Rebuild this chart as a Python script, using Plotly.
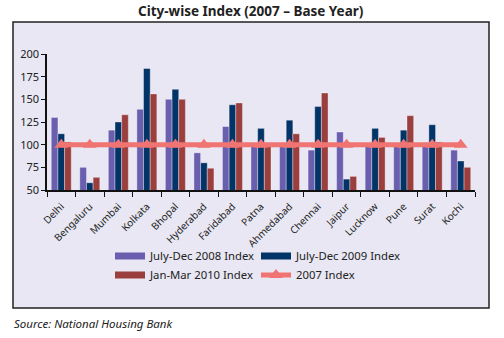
import plotly.graph_objects as go

cities = ["Delhi", "Bengaluru", "Mumbai", "Kolkata", "Bhopal", "Hyderabad", "Faridabad",
          "Patna", "Ahmedabad", "Chennai", "Jaipur", "Lucknow", "Pune", "Surat", "Kochi"]
idx_2008 = [130, 75, 116, 139, 150, 91, 120, 99, 99, 94, 114, 99, 99, 99, 94]
idx_2009 = [112, 58, 125, 184, 161, 80, 144, 118, 127, 142, 62, 118, 116, 122, 82]
idx_2010 = [103, 64, 133, 156, 150, 74, 146, 99, 112, 157, 65, 108, 132, 103, 75]
idx_2007 = [100] * len(cities)

names = ["July-Dec 2008 Index", "July-Dec 2009 Index", "Jan-Mar 2010 Index", "2007 Index"]
colors = ["#6A5EAE", "#033468", "#9A3E3E", "#F07472"]

W, H = 504, 338
L, R, T, B = 47, 29, 54, 148
pw, ph = W - L - R, H - T - B

def px(x):
    return (x - L) / pw

def py(y):
    return (H - B - y) / ph

font = "Noto Sans, Open Sans, sans-serif"
legend_ids = ["legend", "legend2", "legend3", "legend4"]
# legend text start (x) and row centre (y), in pixels
legend_pos = [(150, 256), (296, 256), (150, 275), (296, 275)]

fig = go.Figure()
edge = dict(color="rgba(255,255,255,0.35)", width=1)
for i, vals in enumerate([idx_2008, idx_2009, idx_2010]):
    fig.add_bar(x=cities, y=vals, name=names[i], marker=dict(color=colors[i], line=edge),
                showlegend=False)
    # legend swatch (wide rectangle like the reference)
    fig.add_scatter(x=[None], y=[None], mode="lines", name=names[i],
                    line=dict(color=colors[i], width=7), legend=legend_ids[i])
fig.add_scatter(x=cities, y=idx_2007, name=names[3], mode="lines+markers",
                line=dict(color=colors[3], width=5), legend=legend_ids[3],
                marker=dict(symbol="triangle-up", size=12, color=colors[3]))

legends = {}
for lid, (tx, ty) in zip(legend_ids, legend_pos):
    legends[lid] = dict(x=px(tx - 40), y=py(ty), xanchor="left", yanchor="middle",
                        bgcolor="rgba(0,0,0,0)", font=dict(size=11.3, family=font),
                        itemwidth=30, orientation="h")

fig.update_layout(
    width=W, height=H,
    margin=dict(l=L, r=R, t=T, b=B),
    paper_bgcolor="white",
    plot_bgcolor="rgba(0,0,0,0)",
    barmode="group", bargap=0.3, bargroupgap=0,
    font=dict(family=font, color="#222222", size=11),
    showlegend=True,
    **legends,
    shapes=[dict(type="rect", xref="paper", yref="paper", x0=px(13), x1=px(489),
                 y0=py(308), y1=py(22), line=dict(color="#222222", width=1.5),
                 fillcolor="#E8E7F3", layer="below")],
    annotations=[
        dict(text="<b>City-wise Index (2007 – Base Year)</b>", xref="paper", yref="paper",
             x=px(251), y=py(11), xanchor="center", yanchor="middle", showarrow=False,
             font=dict(size=13.5, family=font, color="#222222")),
        dict(text="<i>Source: National Housing Bank</i>", xref="paper", yref="paper",
             x=px(12), y=py(323), xanchor="left", yanchor="middle", showarrow=False,
             font=dict(size=11.5, family=font, color="#222222")),
    ],
)
fig.update_xaxes(range=[-0.5, len(cities) - 0.5], automargin=False,
                 showline=True, linecolor="#111111", linewidth=1.5, ticks="outside",
                 tickson="boundaries", ticklen=5, tickcolor="#111111", tickangle=-45,
                 ticklabelstandoff=5, tickfont=dict(size=10), showgrid=False)
fig.update_yaxes(range=[50, 200], dtick=25, automargin=False, showline=True,
                 linecolor="#111111", linewidth=1.5,
                 ticks="outside", ticklen=4, tickcolor="#111111", showgrid=False,
                 zeroline=False, tickfont=dict(size=11))

fig.write_html("out.html")
